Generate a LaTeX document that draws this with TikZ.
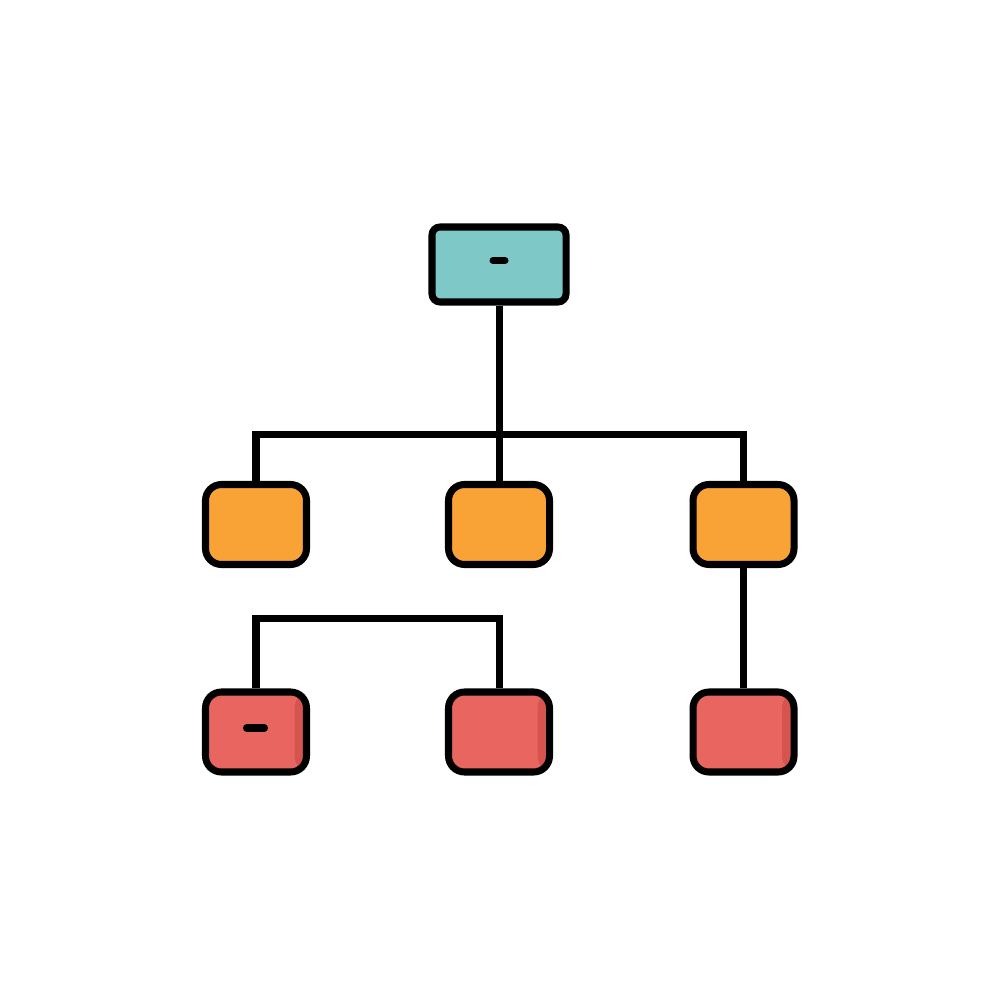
\documentclass[tikz,border=0pt]{standalone}
\usepackage{tikz}
\usetikzlibrary{positioning}

\definecolor{tealfill}{HTML}{7EC8C7}
\definecolor{orangefill}{HTML}{F9A236}
\definecolor{redfill}{HTML}{E8665F}
\definecolor{redshade}{HTML}{D5554E}

\begin{document}
\begin{tikzpicture}[
    line width=2pt,
    box/.style={draw=black, rounded corners=0.16cm, minimum width=1.01cm, minimum height=0.80cm, inner sep=0pt},
    headbox/.style={draw=black, fill=tealfill, rounded corners=0.08cm, minimum width=1.34cm, minimum height=0.75cm, inner sep=0pt},
    midbox/.style={box, fill=orangefill},
    lowbox/.style={box, fill=redfill, path picture={
        \fill[redshade] ([xshift=-0.12cm]path picture bounding box.north east) rectangle (path picture bounding box.south east);}},
    dashmark/.style={line width=2pt, line cap=round},
  ]
    \useasboundingbox[fill=white] (0,0) rectangle (10,-10);

    % top box
    \node[headbox] (head) at (4.99,-2.645) {};
    \draw[dashmark] ([shift={(-0.06,0.04)}]head.center) -- ++(0.12,0);

    % middle row
    \node[midbox] (o1) at (2.56,-5.245) {};
    \node[midbox] (o2) at (4.99,-5.245) {};
    \node[midbox] (o3) at (7.435,-5.245) {};

    % bottom row
    \node[lowbox] (r1) at (2.56,-7.32) {};
    \node[lowbox] (r2) at (4.99,-7.32) {};
    \node[lowbox] (r3) at (7.435,-7.32) {};
    \draw[dashmark] ([shift={(-0.095,0.04)}]r1.center) -- ++(0.18,0);

    % connectors
    \draw (head.south) -- ++(0,-1.29) coordinate (bus);
    \draw (o1.north) |- (bus) -| (o3.north);
    \draw (bus) -- (o2.north);
    \draw (o3.south) -- (r3.north);
    \draw (r1.north) -- ++(0,0.7) -| (r2.north);
  \end{tikzpicture}
\end{document}
